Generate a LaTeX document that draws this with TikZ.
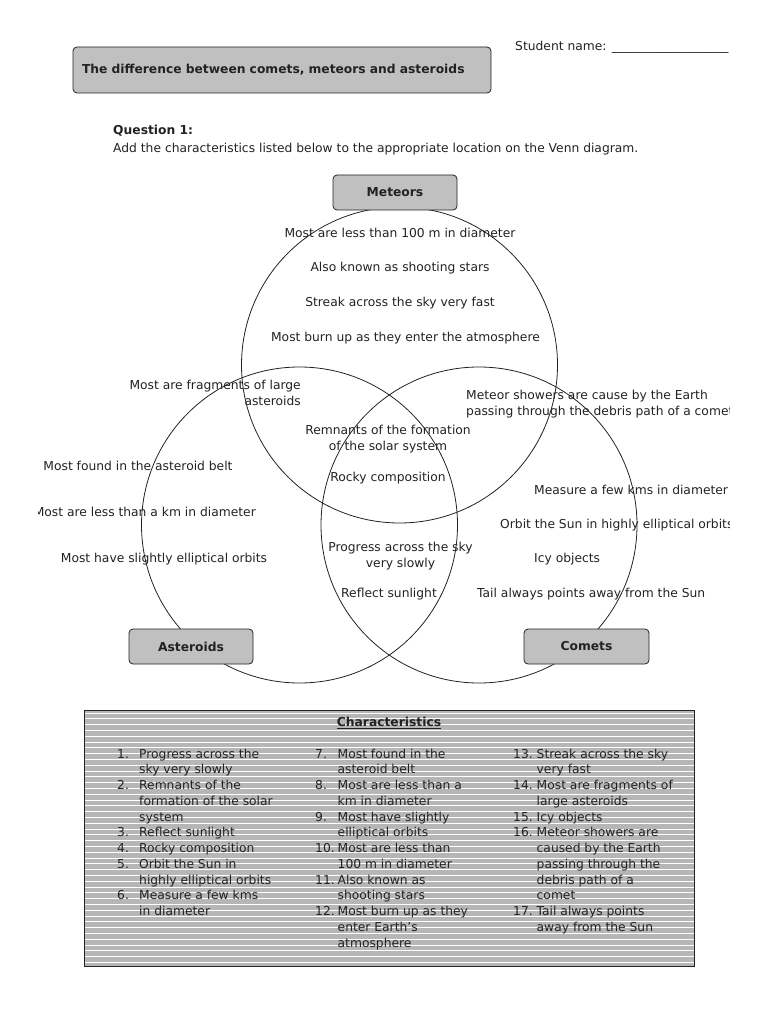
\documentclass[tikz,border=0pt]{standalone}
\usepackage{fontspec}
\setmainfont{DejaVu Sans}
\definecolor{boxgray}{RGB}{192,192,192}
\definecolor{stripegray}{RGB}{182,182,182}
\definecolor{inkgray}{RGB}{34,34,34}

\begin{document}
\begin{tikzpicture}[x=1pt,y=-1pt,font=\fontsize{12.3}{16}\selectfont,text=inkgray]
	\useasboundingbox (0,0) rectangle (768,1024);
	\tikzstyle{SetCircle}=[circle,draw=inkgray,line width=0.8pt,minimum size=316pt,inner sep=0pt]
	\tikzstyle{LabelBox}=[draw=inkgray,fill=boxgray,rounded corners=4pt,line width=0.8pt,font=\fontsize{12.3}{14}\selectfont\bfseries,minimum width=124pt,minimum height=35pt,inner sep=0pt]
	\tikzstyle{Fact}=[align=center,inner sep=0pt]
	\tikzstyle{ListCol}=[anchor=north west,inner sep=0pt,font=\fontsize{12.3}{15.75}\selectfont]
	% header
	\node[LabelBox,text width=400pt,inner xsep=9pt,minimum height=46pt,align=left] (title) at (282,70) {The difference between comets, meteors and asteroids};
	\node[anchor=west,inner sep=0pt] (student) at (515,47) {Student name: \_\_\_\_\_\_\_\_\_\_\_\_\_\_\_\_\_\_\_};
	\node[anchor=west,inner sep=0pt,font=\fontsize{12.3}{16}\selectfont\bfseries] (question) at (113,131) {Question 1:};
	\node[anchor=west,inner sep=0pt] (task) at (113,149) {Add the characteristics listed below to the appropriate location on the Venn diagram.};
	% the three sets
	\node[SetCircle] (meteorset) at (399.5,365) {};
	\node[SetCircle] (asteroidset) at (299.5,525) {};
	\node[SetCircle] (cometset) at (479,525) {};
	\node[LabelBox] (meteorlabel) at (395,192.5) {Meteors};
	\node[LabelBox] (asteroidlabel) at (191,646.5) {Asteroids};
	\node[LabelBox,minimum width=125pt] (cometlabel) at (586.5,646.5) {Comets};
	% facts placed in the diagram
	\begin{scope}
	\clip (38,0) rectangle (729,1024);
	\node[Fact] (m1) at (400,233) {Most are less than 100 m in diameter};
	\node[Fact] (m2) at (400,268) {Also known as shooting stars};
	\node[Fact] (m3) at (400,303) {Streak across the sky very fast};
	\node[Fact] (m4) at (405.5,338) {Most burn up as they enter the atmosphere};
	\node[Fact,align=right,anchor=east] (ma) at (301,393) {Most are fragments of large\\asteroids};
	\node[Fact] (all1) at (388,439) {Remnants of the formation\\of the solar system};
	\node[Fact] (all2) at (388,478) {Rocky composition};
	\node[Fact,align=left,anchor=west] (mc) at (466,404) {Meteor showers are cause by the Earth\\passing through the debris path of a comet};
	\node[Fact] (a1) at (138,466) {Most found in the asteroid belt};
	\node[Fact,anchor=east] (a2) at (256,512) {Most are less than a km in diameter};
	\node[Fact] (a3) at (164,559) {Most have slightly elliptical orbits};
	\node[Fact] (ac1) at (400.5,556) {Progress across the sky\\very slowly};
	\node[Fact] (ac2) at (389,594) {Reflect sunlight};
	\node[Fact,anchor=west] (c1) at (534,490) {Measure a few kms in diameter};
	\node[Fact,anchor=west] (c2) at (500,525) {Orbit the Sun in highly elliptical orbits};
	\node[Fact,anchor=west] (c3) at (534,559) {Icy objects};
	\node[Fact,anchor=west] (c4) at (477,594) {Tail always points away from the Sun};
	\end{scope}
	% list of characteristics
	\fill[stripegray] (84,710) rectangle (694,966);
	\foreach \y in {713,718.8,...,964}
		\draw[white,line width=0.9pt] (84,\y) -- (694,\y);
	\draw[inkgray,line width=0.8pt] (84,710) rectangle (694,966);
	\node[inner sep=0pt,font=\fontsize{12.3}{16}\selectfont\bfseries] (listhead) at (389,723) {\underline{Characteristics}};
	\node[ListCol] (col1) at (117,747) {\begin{tabular}{@{}p{22pt}@{}l@{}}
		1. & Progress across the\\ & sky very slowly\\
		2. & Remnants of the\\ & formation of the solar\\ & system\\
		3. & Reflect sunlight\\
		4. & Rocky composition\\
		5. & Orbit the Sun in\\ & highly elliptical orbits\\
		6. & Measure a few kms\\ & in diameter
	\end{tabular}};
	\node[ListCol] (col2) at (315,747) {\begin{tabular}{@{}p{22.5pt}@{}l@{}}
		7. & Most found in the\\ & asteroid belt\\
		8. & Most are less than a\\ & km in diameter\\
		9. & Most have slightly\\ & elliptical orbits\\
		10. & Most are less than\\ & 100 m in diameter\\
		11. & Also known as\\ & shooting stars\\
		12. & Most burn up as they\\ & enter Earth’s\\ & atmosphere
	\end{tabular}};
	\node[ListCol] (col3) at (513,747) {\begin{tabular}{@{}p{23.5pt}@{}l@{}}
		13. & Streak across the sky\\ & very fast\\
		14. & Most are fragments of\\ & large asteroids\\
		15. & Icy objects\\
		16. & Meteor showers are\\ & caused by the Earth\\ & passing through the\\ & debris path of a\\ & comet\\
		17. & Tail always points\\ & away from the Sun
	\end{tabular}};
\end{tikzpicture}
\end{document}
